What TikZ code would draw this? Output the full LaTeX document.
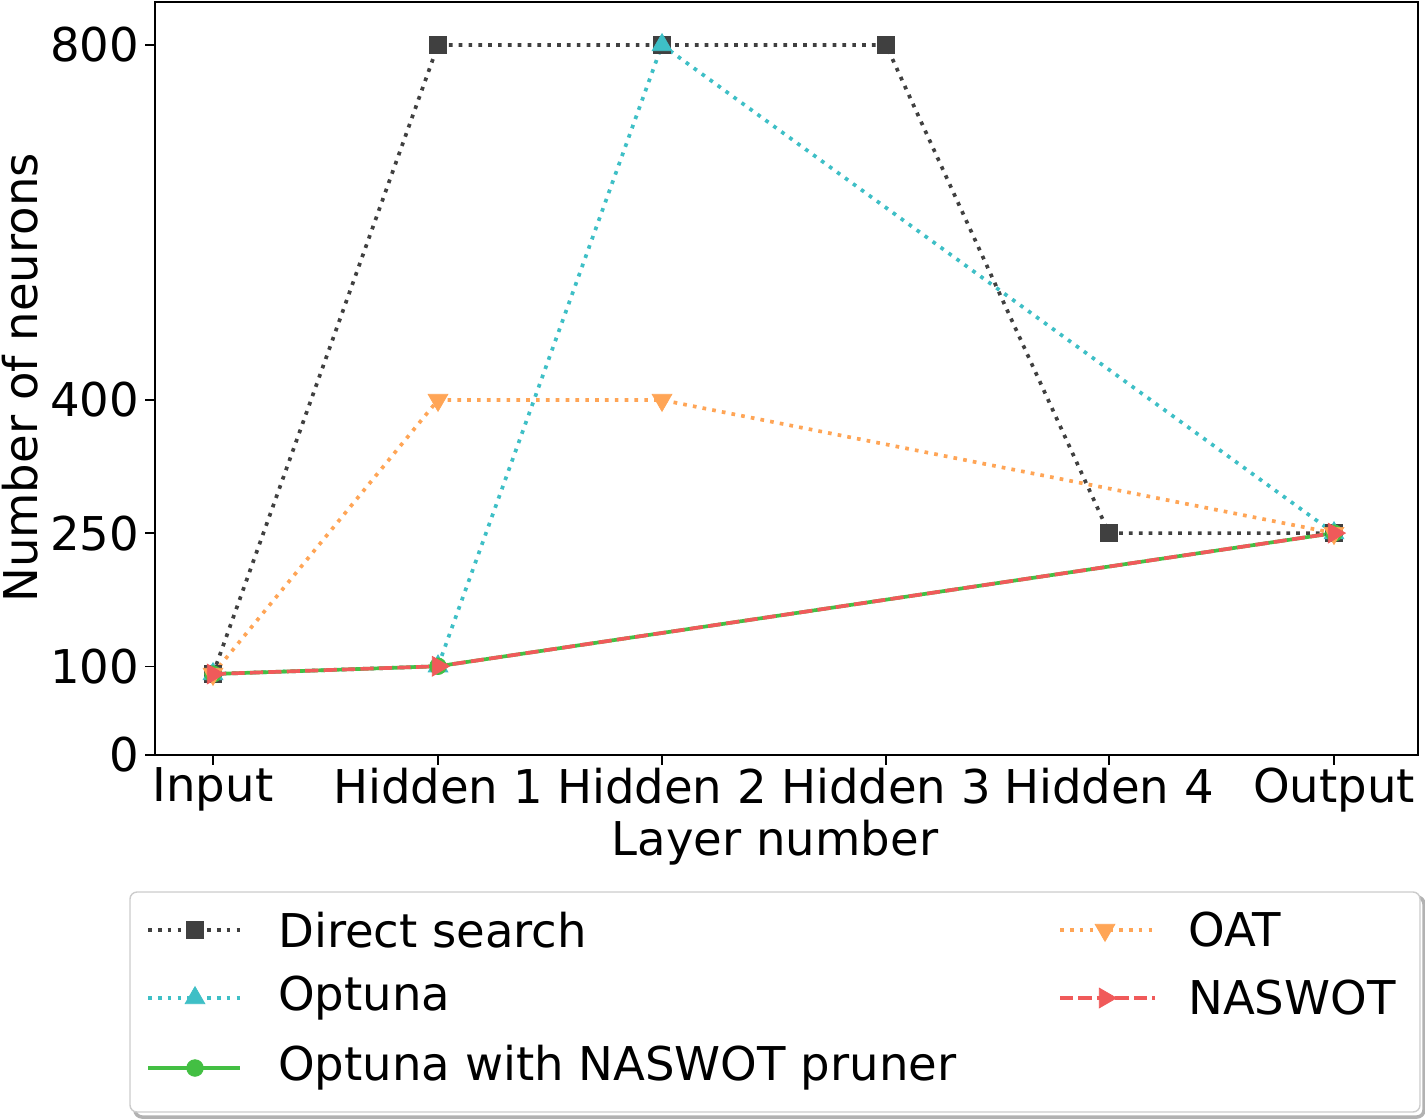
\documentclass[tikz,border=0pt]{standalone}
\usepackage{fontspec}
\setmainfont{DejaVu Sans}
\usetikzlibrary{positioning,shapes.geometric}
\definecolor{dsgray}{HTML}{404040}
\definecolor{optcyan}{HTML}{3EBFC6}
\definecolor{nasgreen}{HTML}{43BF43}
\definecolor{oatorange}{HTML}{FFA556}
\definecolor{nasred}{HTML}{F05A5A}
\tikzset{
  series/.style={line width=2.1pt},
  dotline/.style={series, dash pattern=on 2.1pt off 3.5pt},
  dashline/.style={series, dash pattern=on 7.5pt off 3pt},
  square mark/.style={fill=#1, draw=#1, minimum size=9.5pt, inner sep=0pt},
  up mark/.style={regular polygon, regular polygon sides=3, fill=#1, draw=#1, minimum size=13pt, inner sep=0pt},
  down mark/.style={regular polygon, regular polygon sides=3, shape border rotate=180, fill=#1, draw=#1, minimum size=13pt, inner sep=0pt},
  right mark/.style={regular polygon, regular polygon sides=3, shape border rotate=-90, fill=#1, draw=#1, minimum size=13pt, inner sep=0pt},
  dot mark/.style={circle, fill=#1, draw=#1, minimum size=9.5pt, inner sep=0pt},
  tick label/.style={font=\fontsize{26.5}{31}\selectfont},
}
\begin{document}
\begin{tikzpicture}[x=0.02cm, y=-0.02cm]
\useasboundingbox (0,0) rectangle (1425,1118);
% axes
\draw[line width=0.8pt] (155,2) rectangle (1418,755);
\foreach \v/\y in {0/755, 100/666.25, 250/533.1, 400/400, 800/45} {
  \draw[line width=0.8pt] (155,\y) -- (145,\y);
  \node[tick label, anchor=east, inner sep=2pt] at (143,\y) {\v};
}
\foreach \x/\t in {213/Input, 438/Hidden 1, 662/Hidden 2, 886/Hidden 3, 1109/Hidden 4, 1334/Output} {
  \draw[line width=0.8pt] (\x,755) -- (\x,765);
  \node[tick label, anchor=north, inner sep=2pt] at (\x,764) {\t};
}
\node[tick label] (xlab) at (775,843) {Layer number};
\node[tick label, rotate=90] (ylab) at (20,378) {Number of neurons};
% data points
\coordinate (in) at (213,674);
\coordinate (h1a) at (438,45);
\coordinate (h2a) at (662,45);
\coordinate (h3a) at (886,45);
\coordinate (h4b) at (1109,533.1);
\coordinate (out) at (1334,533.1);
\coordinate (h1c) at (438,666.25);
\coordinate (h1d) at (438,400);
\coordinate (h2d) at (662,400);
% series
\draw[dotline, dsgray] (in) -- (h1a) -- (h2a) -- (h3a) -- (h4b) -- (out);
\draw[dotline, oatorange] (in) -- (h1d) -- (h2d) -- (out);
\draw[dotline, optcyan] (in) -- (h1c) -- (h2a) -- (out);
\draw[series, nasgreen] (in) -- (h1c) -- (out);
\draw[dashline, nasred] (in) -- (h1c) -- (out);
\foreach \p in {in, h1a, h2a, h3a, h4b, out} \node[square mark=dsgray] at (\p) {};
\foreach \p in {in, h1c, h2a, out} \node[up mark=optcyan] at (\p) {};
\foreach \p in {in, h1c, out} \node[dot mark=nasgreen] at (\p) {};
\foreach \p in {in, h1d, h2d, out} \node[down mark=oatorange] at (\p) {};
\foreach \p in {in, h1c, out} \node[right mark=nasred] at (\p) {};
% legend
\draw[gray!60, line width=2pt, rounded corners=4pt] (135,897) rectangle (1424,1117);
\draw[fill=white, draw=gray!40, line width=0.8pt, rounded corners=4pt] (130,892) rectangle (1420,1112);
\draw[dotline, dsgray] (148,930) -- (240,930); \node[square mark=dsgray] at (195,930) {};
\node[tick label, anchor=west] (l1) at (272,930) {Direct search};
\draw[dotline, optcyan] (148,998) -- (240,998); \node[up mark=optcyan] at (195,998) {};
\node[tick label, anchor=west] (l2) at (272,998) {Optuna};
\draw[series, nasgreen] (148,1068) -- (240,1068); \node[dot mark=nasgreen] at (195,1068) {};
\node[tick label, anchor=west] (l3) at (272,1068) {Optuna with NASWOT pruner};
\draw[dotline, oatorange] (1060,930) -- (1155,930); \node[down mark=oatorange] at (1105,930) {};
\node[tick label, anchor=west] (l4) at (1182,930) {OAT};
\draw[dashline, nasred] (1060,998) -- (1155,998); \node[right mark=nasred] at (1105,998) {};
\node[tick label, anchor=west] (l5) at (1182,998) {NASWOT};
\end{tikzpicture}
\end{document}
